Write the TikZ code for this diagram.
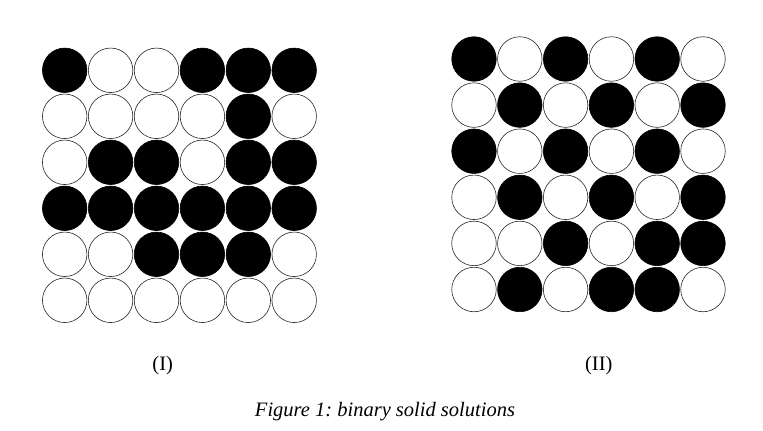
\documentclass[tikz,border=0pt]{standalone}
\usepackage{fontspec}
\setmainfont{Liberation Serif}
\usepackage{tikz}
\usetikzlibrary{positioning}
\frenchspacing

\begin{document}
\begin{tikzpicture}[
            x = 1pt, y = -1pt, % pixel-like units, downwards
            font = \fontsize{20.5}{24}\selectfont,
            semithick % line style
        ]

        \tikzstyle{atom}=[
            circle,
            draw = black!85,
            line width = 0.6pt,
            inner sep = 0pt,
            minimum size = 44.5pt
        ]
        \tikzstyle{atom0}=[fill = white]
        \tikzstyle{atom1}=[fill = black, draw = black]

        \useasboundingbox (0,0) rectangle (763,431);

	% lattice (I)
        \foreach \pat [count=\r] in {{1,0,0,1,1,1},{0,0,0,0,1,0},{0,1,1,0,1,1},
                                     {1,1,1,1,1,1},{0,0,1,1,1,0},{0,0,0,0,0,0}}
          \foreach \b [count=\c] in \pat
            \node[atom, atom\b] (L\r\c) at ({64.7+45.9*(\c-1)}, {70.3+46*(\r-1)}) {};

        % lattice (II)
        \foreach \pat [count=\r] in {{1,0,1,0,1,0},{0,1,0,1,0,1},{1,0,1,0,1,0},
                                     {0,1,0,1,0,1},{0,0,1,0,1,1},{0,1,0,1,1,0}}
          \foreach \b [count=\c] in \pat
            \node[atom, atom\b] (R\r\c) at ({474+45.8*(\c-1)}, {59+46.1*(\r-1)}) {};

        % labels
        \node[anchor = base] (LI) at (162.7, 370.5) {(I)};
        \node[anchor = base] (LII) at (598.8, 370.5) {(II)};

        \node[anchor = base] (CAP) at (385, 416) {\itshape Figure 1: binary solid solutions};

  \end{tikzpicture}
\end{document}
